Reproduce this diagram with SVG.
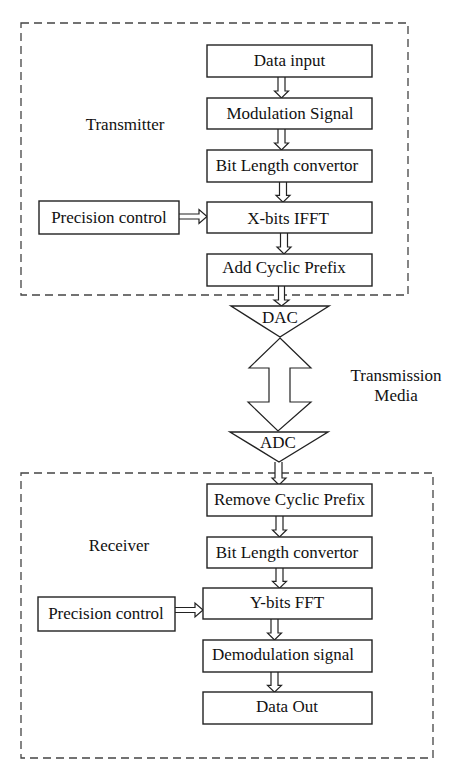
<svg xmlns="http://www.w3.org/2000/svg" xmlns:xlink="http://www.w3.org/1999/xlink" width="474" height="761" viewBox="0 0 474 761">
<style>
.box{fill:#fff;stroke:#222;stroke-width:1.4}
.dash{fill:none;stroke:#444;stroke-width:1.3;stroke-dasharray:8 5}
.t{font-family:"Liberation Serif","Times New Roman",serif;font-size:17px;fill:#111;text-anchor:middle}
.ar{fill:#fff;stroke:#222;stroke-width:1.2;stroke-linejoin:miter}
</style>
<defs>
<path id="va" d="M-3.5,0 L-3.5,14 L-7,14 L0,21 L7,14 L3.5,14 L3.5,0"/>
<path id="ha" d="M0,-2.5 L20,-2.5 L20,-7 L28,0 L20,7 L20,2.5 L0,2.5"/>
</defs>
<rect width="474" height="761" fill="#fff"/>
<g id="transmitter-region">
<rect class="dash" x="21" y="23" width="387" height="272"/>
<text class="t" x="125" y="130">Transmitter</text>
</g>
<g id="receiver-region">
<rect class="dash" x="21" y="473" width="412" height="285"/>
<text class="t" x="119" y="551">Receiver</text>
</g>
<g id="connectors">
<use xlink:href="#va" class="ar" transform="translate(281.5,77)"/>
<use xlink:href="#va" class="ar" transform="translate(281.5,129)"/>
<use xlink:href="#va" class="ar" transform="translate(283,182) scale(1,0.96)"/>
<use xlink:href="#va" class="ar" transform="translate(284,233)"/>
<use xlink:href="#ha" class="ar" transform="translate(179,216.5)"/>
<path class="ar" d="M278.5,286 L278.5,300 L274,300 L281.5,306 L289,300 L284.5,300 L284.5,286"/>
<polygon class="ar" points="280,338 311,368 290,368 290,402 311,402 278,431 248,402 269,402 269,368 249,368"/>
<path class="ar" d="M275,462 L275,478 L272,478 L279,485 L286,478 L282,478 L282,462"/>
<use xlink:href="#va" class="ar" transform="translate(279.5,516)"/>
<use xlink:href="#va" class="ar" transform="translate(279.5,568) scale(1,0.96)"/>
<use xlink:href="#va" class="ar" transform="translate(274.5,619)"/>
<use xlink:href="#va" class="ar" transform="translate(274.5,672) scale(1,0.96)"/>
<use xlink:href="#ha" class="ar" transform="translate(175,610)"/>
</g>
<g id="data-input"><rect class="box" x="207" y="45" width="165" height="32"/><text class="t" x="289.5" y="66">Data input</text></g>
<g id="modulation-signal"><rect class="box" x="207" y="98" width="165" height="31"/><text class="t" x="290" y="119">Modulation Signal</text></g>
<g id="bit-length-tx"><rect class="box" x="207" y="150" width="165" height="32"/><text class="t" x="287" y="171">Bit Length convertor</text></g>
<g id="x-bits-ifft"><rect class="box" x="207" y="202" width="165" height="31"/><text class="t" x="288" y="224">X-bits IFFT</text></g>
<g id="precision-tx"><rect class="box" x="39" y="201" width="140" height="33"/><text class="t" x="109" y="223">Precision control</text></g>
<g id="add-cyclic-prefix"><rect class="box" x="207" y="254" width="165" height="32"/><text class="t" x="284" y="273">Add Cyclic Prefix</text></g>
<g id="dac"><polygon class="box" points="231,306 329,306 280,337"/><text class="t" x="280" y="323">DAC</text></g>
<g id="adc"><polygon class="box" points="230,432 328,432 279,462"/><text class="t" x="278" y="448">ADC</text></g>
<g id="transmission-media"><text class="t" x="396" y="381">Transmission</text><text class="t" x="396" y="401">Media</text></g>
<g id="remove-cyclic-prefix"><rect class="box" x="207" y="484" width="165" height="32"/><text class="t" x="289.5" y="505">Remove Cyclic Prefix</text></g>
<g id="bit-length-rx"><rect class="box" x="207" y="537" width="165" height="31"/><text class="t" x="287" y="558">Bit Length convertor</text></g>
<g id="y-bits-fft"><rect class="box" x="203" y="588" width="169" height="31"/><text class="t" x="287" y="608">Y-bits FFT</text></g>
<g id="precision-rx"><rect class="box" x="38" y="597" width="137" height="34"/><text class="t" x="106" y="619">Precision control</text></g>
<g id="demodulation-signal"><rect class="box" x="203" y="640" width="169" height="32"/><text class="t" x="283" y="660">Demodulation signal</text></g>
<g id="data-out"><rect class="box" x="203" y="692" width="169" height="32"/><text class="t" x="287" y="712">Data Out</text></g>
</svg>
